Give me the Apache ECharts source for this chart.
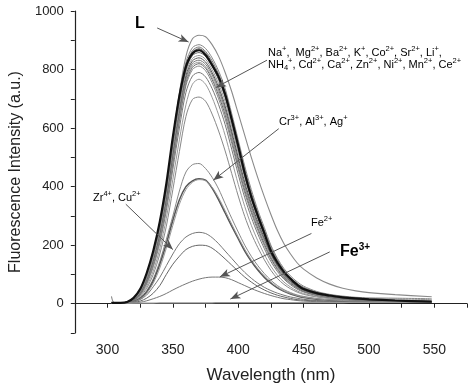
<!DOCTYPE html>
<html><head><meta charset="utf-8">
<script src="https://cdn.jsdelivr.net/npm/echarts@6/dist/echarts.min.js"></script>
<style>html,body{margin:0;padding:0;background:#fff}#c{width:474px;height:390px}</style>
</head><body><div id="c"></div>
<script>
// ---- data (wavelength in nm, intensity in a.u.) ----
const wavelengths = [303,305,310,315,320,325,330,335,340,345,350,355,360,365,370,375,380,385,390,395,400,405,410,415,420,425,430,435,440,445,450,460,470,480,490,500,520,548];
const xTicks = [300,350,400,450,500,550];
const yTicks = [0,200,400,600,800,1000];

const L_vals   = [25,4,3,6,18,45,95,170,270,400, 565,720,845,905,917,912,885,845,790,725, 650,575,500,430,365,305,250,205,170,140, 118,88,67,53,44,38,31,24];
const g1_vals  = [3,3,3,6,20,50,105,180,280,405, 565,715,825,875,885,872,840,795,735,650, 560,470,390,320,260,200,155,120,95,75, 60,42,32,26,22,20,19,17];
const g2_vals  = [3,3,3,6,19,48,100,175,275,400, 560,705,815,865,877,862,830,785,725,640, 550,460,380,312,252,195,150,115,90,70, 56,40,30,24,19,16,12,9];
const g3_vals  = [3,3,3,6,20,49,102,178,278,402, 562,708,812,860,871,857,822,775,712,628, 535,448,370,305,245,188,145,112,88,68, 54,38,29,23,18,15,11,8];
const g4_vals  = [3,3,3,6,20,50,105,180,280,410, 570,710,810,855,866,850,815,775,715,630, 540,445,365,300,240,180,140,108,85,65, 50,36,28,22,18,15,11,7];
const g5_vals  = [3,3,3,5,17,44,95,168,265,390, 545,690,800,848,858,845,812,765,705,620, 528,440,362,297,238,182,140,108,84,65, 51,36,27,21,17,14,10,7];
const g6_vals  = [3,3,3,5,15,40,88,158,252,375, 530,675,790,838,848,835,800,752,690,605, 515,430,355,290,232,178,137,105,82,63, 50,36,28,22,19,17,16,14];
const g7_vals  = [3,3,3,5,14,38,85,152,245,365, 518,665,780,830,840,826,790,740,675,590, 500,415,342,280,224,172,132,101,78,60, 47,33,25,19,15,13,10,7];
const g8_vals  = [3,3,3,5,13,36,80,145,236,355, 505,650,770,822,832,818,782,730,665,580, 490,405,333,272,218,168,129,98,76,58, 46,32,24,18,15,12,9,7];
const g9_vals  = [3,3,3,5,13,35,78,142,230,348, 495,640,762,815,825,810,772,720,655,570, 480,397,326,266,212,163,125,95,74,57, 45,31,23,18,14,12,9,7];
const g10_vals = [3,3,3,5,12,33,75,138,225,340, 487,632,755,808,820,805,766,712,645,560, 470,388,318,258,205,157,120,92,71,55, 43,30,22,17,14,11,9,6];
const g11_vals = [3,3,3,5,12,32,72,133,218,332, 478,622,745,800,812,796,755,700,632,548, 460,378,310,250,198,152,116,88,68,53, 42,29,22,17,14,11,9,6];
const g12_vals = [3,3,3,4,11,30,68,126,208,318, 460,600,722,778,790,775,735,680,612,528, 442,362,295,238,188,144,110,84,65,50, 40,28,21,16,13,11,8,6];
const g13_vals = [3,3,3,4,10,27,60,112,188,292, 425,560,680,750,767,750,705,645,575,492, 408,332,268,215,168,128,97,74,57,44, 35,25,19,15,12,10,8,6];
const g14_vals = [3,3,3,4,9,24,53,100,170,265, 390,520,640,698,706,692,648,590,522,445, 368,298,240,192,150,114,86,66,51,40, 32,23,18,14,11,10,8,6];
const cr_vals  = [2,2,2,3,8,20,45,85,145,220, 300,385,450,475,479,462,432,392,342,292, 245,200,162,130,103,80,62,48,38,30, 25,18,14,12,10,9,8,6];
const al_vals  = [2,2,2,3,7,18,40,78,135,205, 285,355,400,420,427,422,395,355,310,265, 222,180,145,115,90,70,54,42,33,26, 21,15,12,10,9,8,7,6];
const ag_vals  = [2,2,2,3,6,16,36,70,122,190, 268,340,390,415,424,420,398,362,318,272, 228,186,150,120,95,74,57,44,35,28, 23,17,13,11,9,8,7,6];
const zr_vals  = [2,2,2,3,6,14,30,58,90,130, 170,205,228,240,244,240,226,205,180,155, 130,107,87,70,56,45,36,29,23,19, 15,11,9,8,7,6,5,5];
const cu_vals  = [2,2,2,2,4,9,19,36,62,100, 135,162,185,196,200,199,190,173,153,132, 111,91,74,59,47,37,29,23,18,14, 12,9,8,7,6,6,5,5];
const fe2_vals = [2,2,2,2,3,5,10,17,25,35, 47,58,68,77,84,89,91,91,89,82, 72,62,52,43,35,28,22,17,14,11, 9,7,6,5,5,5,5,5];
const fe3_vals = [2,2,2,2,2,2,2,2,3,3, 3,3,3,3,3,3,3,4,4,4, 4,4,4,4,4,4,4,4,4,4, 4,4,4,4,5,5,5,5];

// ---- styles ----
const curves = [
  {v: g14_vals, c:'#888', w:1}, {v: g13_vals, c:'#999', w:1}, {v: g12_vals, c:'#777', w:1},
  {v: g11_vals, c:'#888', w:1}, {v: g10_vals, c:'#666', w:1}, {v: g9_vals, c:'#999', w:1},
  {v: g8_vals, c:'#777', w:1}, {v: g7_vals, c:'#555', w:1}, {v: g6_vals, c:'#999', w:1},
  {v: g5_vals, c:'#666', w:1}, {v: g3_vals, c:'#555', w:1}, {v: g2_vals, c:'#777', w:1},
  {v: g1_vals, c:'#888', w:1}, {v: L_vals, c:'#8a8a8a', w:1.1},
  {v: cr_vals, c:'#888', w:1}, {v: al_vals, c:'#555', w:1.5}, {v: ag_vals, c:'#999', w:1},
  {v: zr_vals, c:'#777', w:1}, {v: cu_vals, c:'#666', w:1},
  {v: fe2_vals, c:'#777', w:1}, {v: fe3_vals, c:'#999', w:1.2},
  {v: g4_vals, c:'#111', w:2.2}
];

// annotation arrows (data coordinates: [wavelength, intensity])
const arrows = [
  [[338, 942],[362, 894]],
  [[422, 832],[383, 739]],
  [[431, 598],[381, 422]],
  [[314, 340],[350, 185]],
  [[456, 240],[386, 92]],
  [[470, 177],[394, 16]]
];

const FONT = 'Liberation Sans, Arial, Helvetica, sans-serif';
const rich = {
  n: {fontSize: 11, fontFamily: FONT, color:'#222', lineHeight: 15},
  s: {fontSize: 7.5, fontFamily: FONT, color:'#222', lineHeight: 8, verticalAlign:'top'},
  b: {fontSize: 7.5, fontFamily: FONT, color:'#222', lineHeight: 8, verticalAlign:'bottom'},
  N: {fontSize: 16, fontWeight:'bold', fontFamily: FONT, color:'#111', lineHeight: 20},
  S: {fontSize: 10, fontWeight:'bold', fontFamily: FONT, color:'#111', lineHeight: 10, verticalAlign:'top'}
};
function label(text, left, top){
  return {type:'text', left, top, silent:true, style:{text, rich, font:'11px '+FONT}};
}

const series = curves.map((c, i) => ({
  type: 'line',
  data: wavelengths.map((x, j) => [x, c.v[j]]),
  showSymbol: false,
  smooth: 0.3,
  silent: true,
  animation: false,
  lineStyle: {color: c.c, width: c.w},
  z: i === curves.length - 1 ? 3 : 2
}));
series.push({
  type:'line', data: [], silent:true, animation:false, z: 5,
  markLine: {
    silent: true, animation:false,
    symbol: ['none','arrow'], symbolSize: 9,
    itemStyle: {color:'#333'},
    lineStyle: {color:'#555', width:1, type:'solid'},
    label: {show:false},
    emphasis: {disabled: true},
    data: arrows.map(a => [
      {coord:a[0], symbol:'none'},
      {coord:a[1], symbol:'arrow', symbolSize:[6, 10]}
    ])
  }
});

const chart = echarts.init(document.getElementById('c'), null, {renderer:'canvas'});
chart.setOption({
  animation: false,
  backgroundColor: '#fff',
  grid: {left: 65, right: 7, top: 11, bottom: 57},
  xAxis: {
    type: 'value', min: 275, max: 575, interval: 25,
    name: 'Wavelength (nm)', nameLocation: 'middle', nameGap: 34,
    nameTextStyle: {fontSize: 17, fontFamily: FONT, color:'#222'},
    axisLine: {show:true, lineStyle:{color:'#222', width:1.2}},
    axisTick: {show:true, inside:false, length:4, lineStyle:{color:'#222'}},
    axisLabel: {fontSize: 14, fontFamily: FONT, color:'#222', margin: 10,
      formatter: v => xTicks.includes(v) ? String(v) : ''},
    splitLine: {show:false}
  },
  yAxis: {
    type: 'value', min: -100, max: 1000, interval: 100,
    name: 'Fluorescence Intensity (a.u.)', nameLocation: 'middle', nameGap: 46,
    nameTextStyle: {fontSize: 16, fontFamily: FONT, color:'#222'},
    axisLine: {show:true, lineStyle:{color:'#222', width:1.2}},
    axisTick: {show:true, inside:false, length:4, lineStyle:{color:'#222'}},
    axisLabel: {fontSize: 13, fontFamily: FONT, color:'#222', margin: 11,
      formatter: v => yTicks.includes(v) ? String(v) : ''},
    splitLine: {show:false}
  },
  series,
  graphic: [
    label('{N|L}', 135, 16),
    label('{n|Na}{s|+}{n|,  Mg}{s|2+}{n|, Ba}{s|2+}{n|, K}{s|+}{n|, Co}{s|2+}{n|, Sr}{s|2+}{n|, Li}{s|+}{n|,}', 268, 45),
    label('{n|NH}{b|4}{s|+}{n|, Cd}{s|2+}{n|, Ca}{s|2+}{n|, Zn}{s|2+}{n|, Ni}{s|2+}{n|, Mn}{s|2+}{n|, Ce}{s|2+}', 268, 57),
    label('{n|Cr}{s|3+}{n|, Al}{s|3+}{n|, Ag}{s|+}', 279, 114),
    label('{n|Zr}{s|4+}{n|, Cu}{s|2+}', 93, 190),
    label('{n|Fe}{s|2+}', 311, 215),
    label('{N|Fe}{S|3+}', 340, 242)
  ]
});
</script>
</body></html>
